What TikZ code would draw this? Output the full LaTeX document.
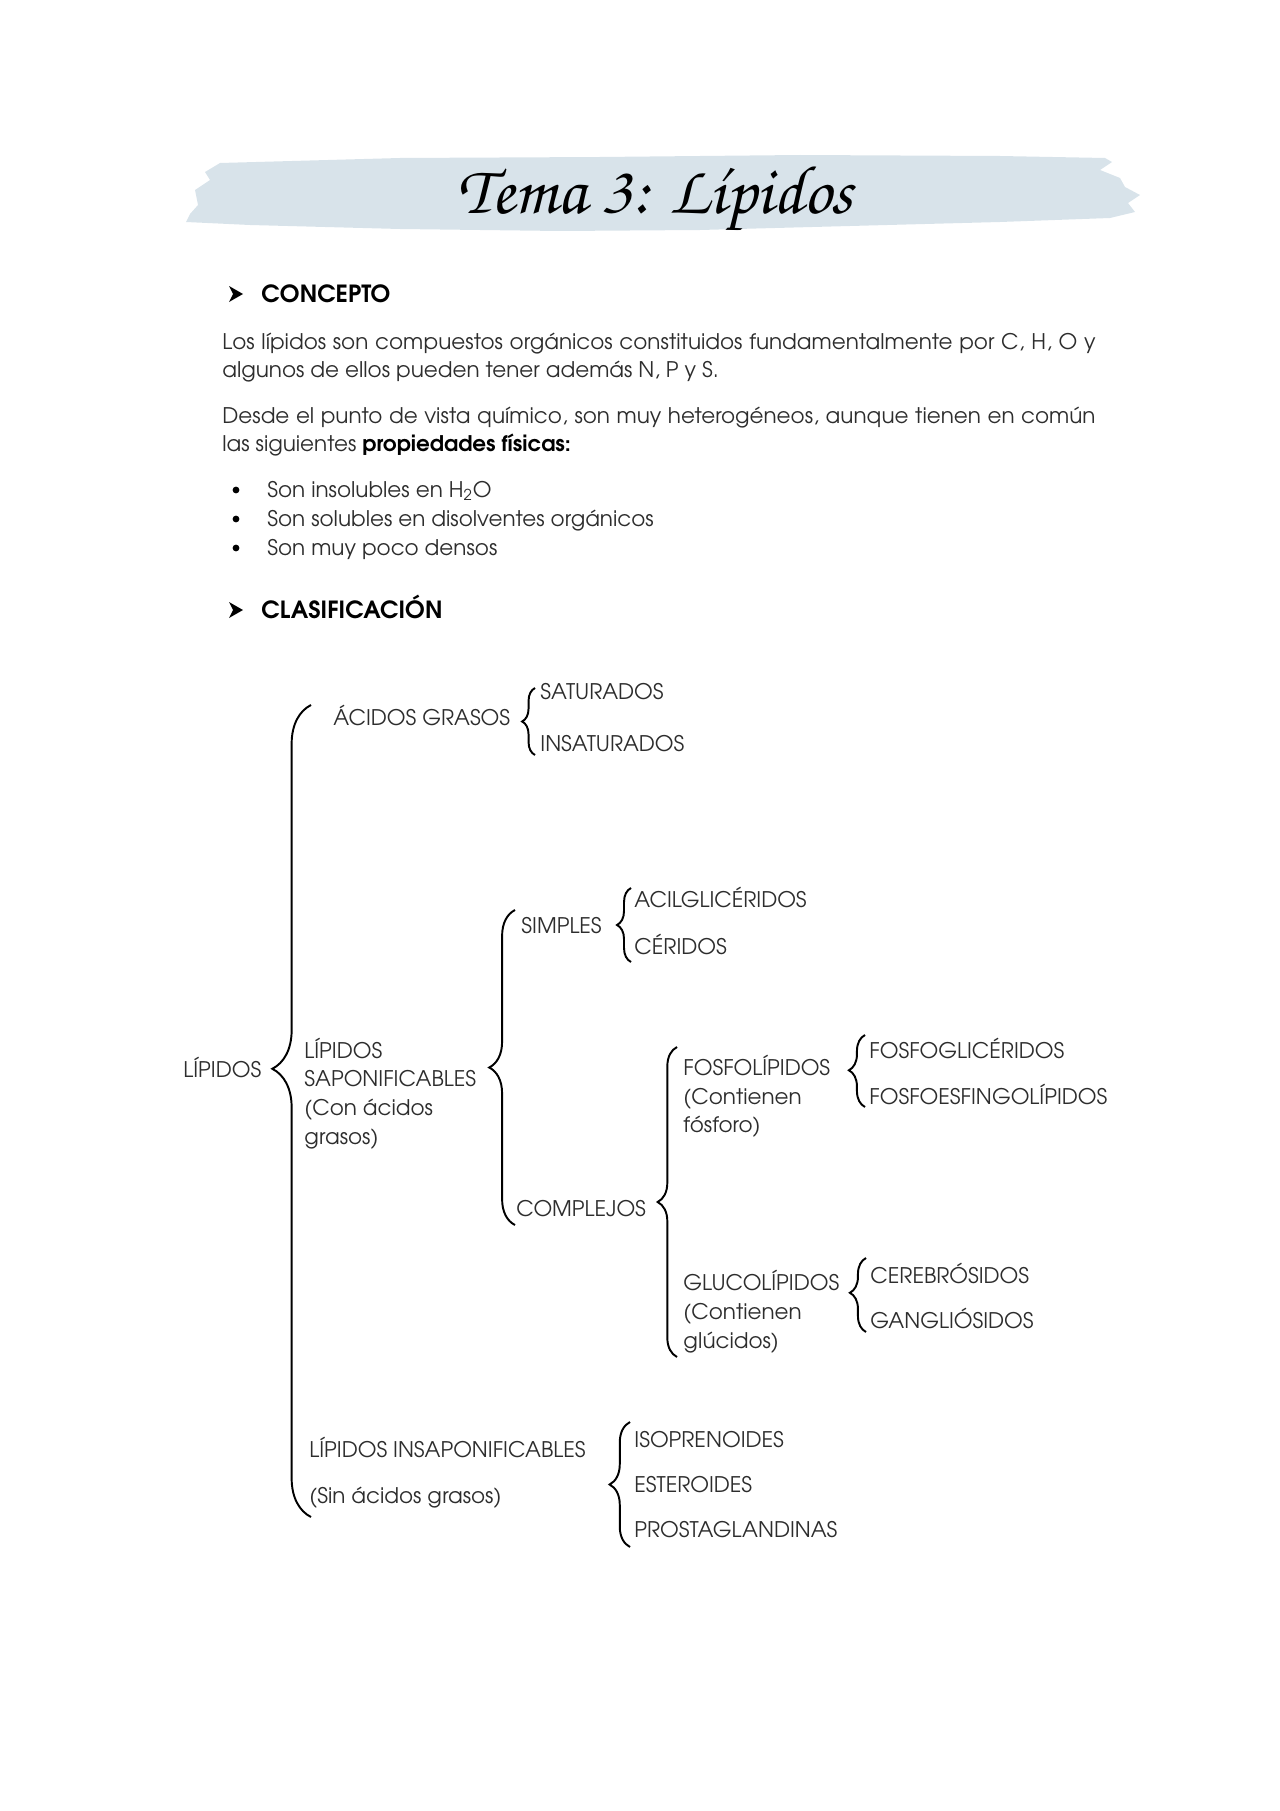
\documentclass[tikz,border=0pt]{standalone}
\usepackage{fontspec}
\setmainfont[BoldFont=texgyreadventor-bold.otf]{texgyreadventor-regular.otf}
\newfontfamily\titlefont{texgyrechorus-mediumitalic.otf}
\usetikzlibrary{decorations.pathreplacing}
\definecolor{banner}{RGB}{216,227,234}
\definecolor{ink}{RGB}{45,45,45}
\tikzset{
  txt/.style={anchor=base west, inner sep=0pt, font=\fontsize{10}{12}\selectfont, text=ink},
  head/.style={txt, font=\fontsize{11}{13}\selectfont\bfseries, text=black},
  br/.style={decorate, decoration={brace, amplitude=#1}, line width=0.9pt, draw=black},
  br/.default=6pt,
  headarrow/.style={fill=black},
  bulletdot/.style={fill=black, draw=none}
}
\begin{document}
\begin{tikzpicture}[x=0.465pt, y=-0.465pt]
\useasboundingbox (0,0) rectangle (1280,1811);
% banner
\fill[banner] (220,163) -- (400,158) -- (600,157) -- (800,155) -- (1000,156) -- (1105,158) -- (1112,162) -- (1100,170) -- (1120,178) -- (1125,187) -- (1140,195) -- (1128,203) -- (1135,212) -- (1110,218) -- (1000,222) -- (850,226) -- (700,230) -- (560,231) -- (400,229) -- (250,225) -- (186,222) -- (190,214) -- (198,205) -- (195,190) -- (210,180) -- (205,172) -- cycle;
\node[inner sep=0pt, text=black, font=\titlefont\fontsize{32}{32}\selectfont] (title) at (655,199) {Tema 3: Lípidos};
% headings
\fill[headarrow] (229,286) -- (243,294) -- (229,302) -- (233,294) -- cycle;
\node[head] (concepto) at (261,302) {CONCEPTO};
\node[txt] (p1) at (222,349) {\makebox[406pt][s]{Los lípidos son compuestos orgánicos constituidos fundamentalmente por C, H, O y}};
\node[txt] (p2) at (222,377) {algunos de ellos pueden tener además N, P y S.};
\node[txt] (p3) at (222,423) {\makebox[406pt][s]{Desde el punto de vista químico, son muy heterogéneos, aunque tienen en común}};
\node[txt] (p4) at (222,451) {las siguientes \textbf{\color{black}propiedades físicas:}};
\fill[bulletdot] (236,490) circle (3.4);
\fill[bulletdot] (236,519) circle (3.4);
\fill[bulletdot] (236,548) circle (3.4);
\node[txt] (b1) at (267,497) {Son insolubles en H\textsubscript{2}O};
\node[txt] (b2) at (267,526) {Son solubles en disolventes orgánicos};
\node[txt] (b3) at (267,555) {Son muy poco densos};
\fill[headarrow] (229,602) -- (243,610) -- (229,618) -- (233,610) -- cycle;
\node[head] (clasif) at (261,618) {CLASIFICACIÓN};
% tree text
\node[txt] (lipidos) at (183,1077) {LÍPIDOS};
\node[txt] (acidos) at (333,725) {ÁCIDOS GRASOS};
\node[txt] (sat) at (540,699) {SATURADOS};
\node[txt] (insat) at (540,751) {INSATURADOS};
\node[txt] (sapA) at (304,1058) {LÍPIDOS};
\node[txt] (sapB) at (304,1086) {SAPONIFICABLES};
\node[txt] (sapC) at (304,1115) {(Con ácidos};
\node[txt] (sapD) at (304,1144) {grasos)};
\node[txt] (simples) at (521,933) {SIMPLES};
\node[txt] (acil) at (634,907) {ACILGLICÉRIDOS};
\node[txt] (cer) at (634,954) {CÉRIDOS};
\node[txt] (complejos) at (516,1216) {COMPLEJOS};
\node[txt] (fosA) at (683,1075) {FOSFOLÍPIDOS};
\node[txt] (fosB) at (683,1104) {(Contienen};
\node[txt] (fosC) at (683,1132) {fósforo)};
\node[txt] (fosgli) at (869,1058) {FOSFOGLICÉRIDOS};
\node[txt] (fosesf) at (869,1104) {FOSFOESFINGOLÍPIDOS};
\node[txt] (gluA) at (683,1290) {GLUCOLÍPIDOS};
\node[txt] (gluB) at (683,1319) {(Contienen};
\node[txt] (gluC) at (683,1348) {glúcidos)};
\node[txt] (cerebro) at (870,1283) {CEREBRÓSIDOS};
\node[txt] (gangl) at (870,1328) {GANGLIÓSIDOS};
\node[txt] (insA) at (309,1457) {LÍPIDOS INSAPONIFICABLES};
\node[txt] (insB) at (309,1503) {(Sin ácidos grasos)};
\node[txt] (iso) at (634,1447) {ISOPRENOIDES};
\node[txt] (este) at (634,1492) {ESTEROIDES};
\node[txt] (prost) at (634,1537) {PROSTAGLANDINAS};
% brace end points
\coordinate (bigT) at (311,705);   \coordinate (bigB) at (311,1517);
\coordinate (acT) at (535,688);    \coordinate (acB) at (535,755);
\coordinate (scT) at (515,910);    \coordinate (scB) at (515,1225);
\coordinate (siT) at (631,888);    \coordinate (siB) at (631,962);
\coordinate (coT) at (677,1047);   \coordinate (coB) at (677,1357);
\coordinate (foT) at (865,1035);   \coordinate (foB) at (865,1107);
\coordinate (glT) at (866,1258);   \coordinate (glB) at (866,1332);
\coordinate (inT) at (630,1422);   \coordinate (inB) at (630,1547);
% braces
\draw[br=18pt, decoration={aspect=0.552}] (bigB) -- (bigT);
\draw[br=6pt] (acB) -- (acT);
\draw[br=12pt] (scB) -- (scT);
\draw[br=6.5pt] (siB) -- (siT);
\draw[br=9pt] (coB) -- (coT);
\draw[br=7.5pt, decoration={aspect=0.51}] (foB) -- (foT);
\draw[br=7.5pt, decoration={aspect=0.53}] (glB) -- (glT);
\draw[br=9.5pt] (inB) -- (inT);
\end{tikzpicture}
\end{document}
